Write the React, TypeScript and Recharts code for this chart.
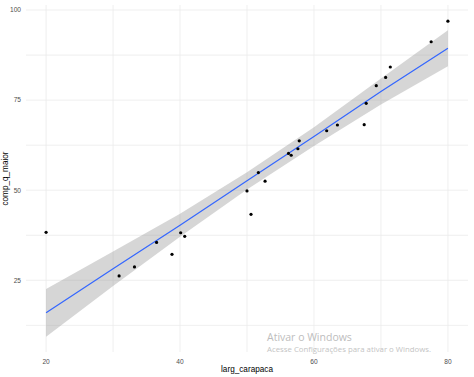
import React from 'react';
import { ComposedChart, Scatter, Line, Area, XAxis, YAxis, CartesianGrid } from 'recharts';

// observed points (larg_carapaca, comp_q_maior)
const larg = [20, 30.9, 33.2, 36.5, 38.8, 40.1, 40.7, 50.0, 50.6, 51.7, 52.7, 56.2, 56.6, 57.6, 57.8, 61.9, 63.5, 67.5, 67.8, 69.3, 70.7, 71.4, 77.5, 80];
const comp = [38.3, 26.2, 28.7, 35.5, 32.2, 38.2, 37.2, 49.8, 43.3, 54.9, 52.5, 60.2, 59.7, 61.5, 63.7, 66.5, 68.1, 68.2, 74.1, 79.0, 81.3, 84.2, 91.2, 96.9];

// smooth line + confidence band
const fitX = [20, 30, 40, 50, 60, 70, 80];
const fitY = [16.0, 28.2, 40.3, 52.6, 64.9, 77.4, 89.4];
const bandLow = [9.3, 23.4, 37.1, 50.2, 62.3, 73.8, 84.4];
const bandHigh = [22.6, 33.0, 43.5, 55.0, 67.5, 81.0, 94.4];

const xTicks = [20, 40, 60, 80];
const yTicks = [25, 50, 75, 100];
const xGrid = [20, 30, 40, 50, 60, 70, 80];
const yGrid = [12.5, 25, 37.5, 50, 62.5, 75, 87.5, 100];

const points = larg.map((x, i) => ({ x, y: comp[i] }));
const curve = fitX.map((x, i) => ({ x, fit: fitY[i], band: [bandLow[i], bandHigh[i]] }));

const tickStyle = { fontFamily: 'Liberation Sans, Arial, sans-serif', fontSize: 6.6, fill: '#4d4d4d' };

const XTitle = (props: any) => {
  const vb = props.viewBox;
  return (
    <text x={vb.x + vb.width / 2} y={vb.y + 20} textAnchor="middle"
      style={{ fontFamily: 'Liberation Sans, Arial, sans-serif', fontSize: 8.2, fill: '#000' }}>
      larg_carapaca
    </text>
  );
};

const YTitle = (props: any) => {
  const vb = props.viewBox;
  const cx = vb.x + 8;
  const cy = vb.y + vb.height / 2;
  return (
    <text x={cx} y={cy} textAnchor="middle" transform={`rotate(-90 ${cx} ${cy})`}
      style={{ fontFamily: 'Liberation Sans, Arial, sans-serif', fontSize: 8.2, fill: '#000' }}>
      comp_q_maior
    </text>
  );
};

export default function App() {
  return (
    <div style={{ position: 'absolute', left: 0, top: 0, width: 474, height: 377, background: '#fff' }}>
      <ComposedChart width={474} height={377} data={curve} margin={{ top: 5, right: 6, left: 0, bottom: 0 }}>
        <CartesianGrid stroke="#ebebeb" strokeWidth={0.8} verticalValues={xGrid} horizontalValues={yGrid} />
        <XAxis type="number" dataKey="x" domain={[17, 83]} ticks={xTicks} axisLine={false} tickLine={false}
          tickSize={0} tickMargin={7} height={25} tick={tickStyle} label={<XTitle />} allowDataOverflow />
        <YAxis type="number" dataKey="y" domain={[5.1, 101.4]} ticks={yTicks} axisLine={false} tickLine={false}
          tickSize={0} tickMargin={5} width={26} tick={tickStyle} label={<YTitle />} allowDataOverflow />
        <Area dataKey="band" type="linear" stroke="none" fill="#999999" fillOpacity={0.4} isAnimationActive={false} />
        <Line dataKey="fit" type="linear" stroke="#3366ff" strokeWidth={1.2} dot={false} isAnimationActive={false} />
        <Scatter data={points} fill="#000" shape={(p: any) => <circle cx={p.cx} cy={p.cy} r={1.6} fill="#000" />}
          isAnimationActive={false} />
      </ComposedChart>
      <svg width={474} height={377} style={{ position: 'absolute', left: 0, top: 0, pointerEvents: 'none' }}>
        <text x={267} y={341} style={{ fontFamily: 'Open Sans, sans-serif', fontSize: 10.5, fill: '#bdbdbd' }}>
          Ativar o Windows
        </text>
        <text x={267} y={352} style={{ fontFamily: 'Open Sans, sans-serif', fontSize: 7.8, fill: '#c4c4c4' }}>
          Acesse Configurações para ativar o Windows.
        </text>
      </svg>
    </div>
  );
}
